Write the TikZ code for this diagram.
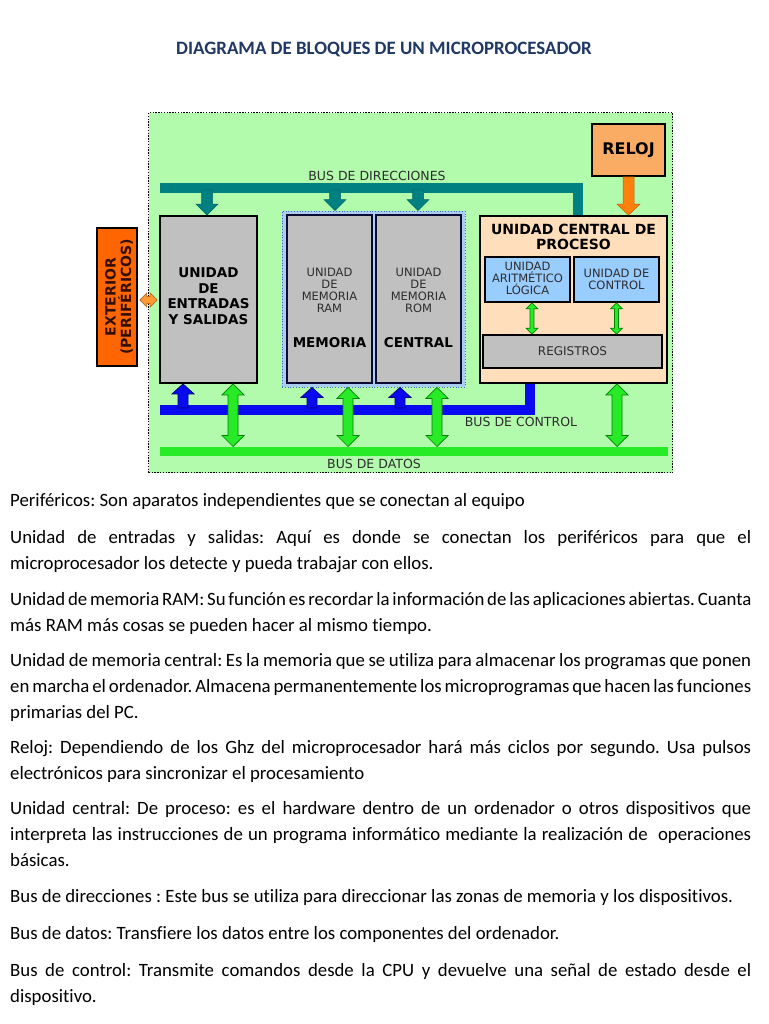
\documentclass[tikz,border=0pt]{standalone}
\usepackage{fontspec}
\setmainfont{Carlito}[Ligatures=NoCommon]
\newfontfamily\dv{DejaVu Sans}
\usetikzlibrary{calc}
\frenchspacing
\definecolor{bggreen}{RGB}{178,250,172}
\definecolor{busteal}{RGB}{0,128,128}
\definecolor{busblue}{RGB}{10,10,240}
\definecolor{navyline}{RGB}{0,0,120}
\definecolor{memline}{RGB}{10,10,50}
\definecolor{busgreen}{RGB}{40,235,40}
\definecolor{dkgreen}{RGB}{0,130,0}
\definecolor{boxgray}{RGB}{192,192,192}
\definecolor{memblue}{RGB}{170,205,240}
\definecolor{memborder}{RGB}{60,110,200}
\definecolor{cpupeach}{RGB}{255,222,188}
\definecolor{ltblue}{RGB}{153,204,255}
\definecolor{relojorange}{RGB}{250,172,100}
\definecolor{extorange}{RGB}{255,102,0}
\definecolor{arroworange}{RGB}{255,128,10}
\definecolor{smallorange}{RGB}{255,153,51}
\definecolor{titleblue}{RGB}{31,56,100}
\definecolor{boxtext}{RGB}{45,45,45}
% single fat arrow: style, tail, tip, shaft half width, head half width, head length
\newcommand{\singlefat}[6]{%
  \path #3 coordinate (sfB) #2 coordinate (sfA) ($(sfB)!#6!(sfA)$) coordinate (sfC);
  \path[#1] ($(sfA)!#4!90:(sfB)$) -- ($(sfC)!#4!90:(sfB)$) -- ($(sfC)!#5!90:(sfB)$) -- (sfB)
    -- ($(sfC)!#5!-90:(sfB)$) -- ($(sfC)!#4!-90:(sfB)$) -- ($(sfA)!#4!-90:(sfB)$) -- cycle;}
% double fat arrow: style, end A, end B, shaft half width, head half width, head length
\newcommand{\doublefat}[6]{%
  \path #2 coordinate (dfA) #3 coordinate (dfB) ($(dfA)!#6!(dfB)$) coordinate (dfC) ($(dfB)!#6!(dfA)$) coordinate (dfD);
  \path[#1] (dfA) -- ($(dfC)!#5!90:(dfB)$) -- ($(dfC)!#4!90:(dfB)$) -- ($(dfD)!#4!90:(dfB)$) -- ($(dfD)!#5!90:(dfB)$) -- (dfB)
    -- ($(dfD)!#5!-90:(dfB)$) -- ($(dfD)!#4!-90:(dfB)$) -- ($(dfC)!#4!-90:(dfB)$) -- ($(dfC)!#5!-90:(dfB)$) -- cycle;}
\newcommand{\jline}[1]{\makebox[741pt][s]{#1}}
\begin{document}
\begin{tikzpicture}[x=1pt,y=-1pt,
  graybox/.style={draw=black, line width=1.8pt, fill=boxgray, inner sep=0pt},
  membox/.style={draw=memline, line width=1.8pt, fill=boxgray, inner sep=0pt},
  bluebox/.style={draw=black, line width=1.6pt, fill=ltblue, inner sep=0pt},
  boldlbl/.style={font=\dv\bfseries\fontsize{13.5}{15.5}\selectfont, align=center, inner sep=0pt},
  smalllbl/.style={font=\dv\fontsize{11.5}{12}\selectfont, align=center, inner sep=0pt, text=boxtext},
  buslbl/.style={font=\dv\fontsize{12.5}{14}\selectfont, inner sep=0pt, text=boxtext},
  bodyline/.style={anchor=base west, inner sep=0pt, font=\fontsize{18.8}{22}\selectfont},
  greenarrow/.style={fill=busgreen, draw=dkgreen, line width=0.7pt},
  bluearrow/.style={fill=busblue, draw=navyline, line width=0.7pt},
  tealarrow/.style={fill=busteal, draw=busteal!80!black, line width=0.5pt},
  orangearrow/.style={fill=arroworange, draw=arroworange!75!black, line width=0.5pt},
  smallorangearrow/.style={fill=smallorange, draw=smallorange!70!black, line width=0.6pt},
  bus/.style={line cap=butt, line join=miter}
]
\useasboundingbox (0,0) rectangle (768,1024);
\fill[white] (0,0) rectangle (768,1024);

% title
\node[anchor=base, inner sep=0pt, font=\bfseries\fontsize{18.9}{22}\selectfont, text=titleblue] (title) at (384,55) {DIAGRAMA DE BLOQUES DE UN MICROPROCESADOR};

% green background
\node[draw=black, line width=1.4pt, dash pattern=on 1.4pt off 1.4pt, fill=bggreen, minimum width=524pt, minimum height=360pt, inner sep=0pt, anchor=north west] (bg) at (148,112) {};

% boxes
\node[graybox, minimum width=97pt, minimum height=167pt] (io) at (208.5,299.5) {};
\node[boldlbl] (iotext) at (208.5,296) {UNIDAD\\DE\\ENTRADAS\\Y SALIDAS};

\node[draw=memborder, line width=0.8pt, dotted, fill=memblue, minimum width=183pt, minimum height=176pt, inner sep=0pt] (mem) at (373.5,299) {};
\node[membox, minimum width=85pt, minimum height=168pt] (ram) at (329.5,299) {};
\node[membox, minimum width=85pt, minimum height=168pt] (rom) at (418.5,299) {};
\node[smalllbl] (ramtext) at (329.5,290) {UNIDAD\\DE\\MEMORIA\\RAM};
\node[smalllbl] (romtext) at (418.5,290) {UNIDAD\\DE\\MEMORIA\\ROM};
\node[boldlbl] (ramlbl) at (329.5,343) {MEMORIA};
\node[boldlbl] (romlbl) at (418.5,343) {CENTRAL};

\node[draw=black, line width=1.8pt, fill=cpupeach, minimum width=187pt, minimum height=167pt, inner sep=0pt] (cpu) at (573.5,299.5) {};
\node[boldlbl, font=\dv\bfseries\fontsize{14}{14.5}\selectfont] (cputext) at (573.5,237) {UNIDAD CENTRAL DE\\PROCESO};
\node[bluebox, minimum width=85pt, minimum height=45pt] (alu) at (527.5,279.5) {};
\node[smalllbl] (alutext) at (527.5,278) {UNIDAD\\ARITMÉTICO\\LÓGICA};
\node[bluebox, minimum width=85pt, minimum height=45pt] (ctrl) at (616.5,279.5) {};
\node[smalllbl] (ctrltext) at (616.5,279) {UNIDAD DE\\CONTROL};
\node[graybox, line width=1.6pt, minimum width=179pt, minimum height=33pt] (reg) at (572.5,351.5) {};
\node[smalllbl, font=\dv\fontsize{12}{12}\selectfont] (regtext) at (572.5,351.5) {REGISTROS};

\node[draw=black, line width=1.8pt, fill=relojorange, minimum width=73pt, minimum height=52pt, inner sep=0pt, font=\dv\bfseries\fontsize{16}{18}\selectfont] (reloj) at (628.5,150) {RELOJ};

\node[draw=black, line width=1.8pt, fill=extorange, minimum width=40pt, minimum height=138pt, inner sep=0pt] (ext) at (117,297) {};
\node[boldlbl, font=\dv\bfseries\fontsize{14}{15.5}\selectfont, text={rgb,255:red,50;green,15;blue,0}, rotate=90] (exttext) at (119,297) {EXTERIOR\\(PERIFÉRICOS)};

% address bus
\coordinate (abL) at (160,188);
\coordinate (abC) at (578,188);
\draw[bus, busteal, line width=10pt] (abL) -- (abC) -- (abC |- cpu.north);
\coordinate (a1) at (207,190);
\coordinate (a2) at (335,190);
\coordinate (a3) at (418,190);
\singlefat{tealarrow}{(a1)}{(a1 |- io.north)}{5.5pt}{11pt}{11pt}
\singlefat{tealarrow}{(a2)}{(a2 |- mem.north)}{5.5pt}{11pt}{11pt}
\singlefat{tealarrow}{(a3)}{(a3 |- mem.north)}{5.5pt}{11pt}{11pt}
\node[buslbl] (ablbl) at (377,176) {BUS DE DIRECCIONES};

% clock arrow
\singlefat{orangearrow}{(reloj.south)}{(reloj.south |- cpu.north)}{5.5pt}{11.5pt}{11pt}

% control bus
\coordinate (cbL) at (160,410);
\coordinate (cbC) at (530,410);
\draw[bus, busblue, line width=10pt] (cbL) -- (cbC) -- (cbC |- cpu.south);
\coordinate (c1) at (183,408);
\coordinate (c2) at (312,408);
\coordinate (c3) at (400,408);
\singlefat{bluearrow}{(c1)}{(c1 |- io.south)}{5pt}{11pt}{10pt}
\singlefat{bluearrow}{(c2)}{(c2 |- mem.south)}{5pt}{11pt}{10pt}
\singlefat{bluearrow}{(c3)}{(c3 |- mem.south)}{5pt}{11pt}{10pt}
\node[buslbl] (cblbl) at (521,422) {BUS DE CONTROL};

% data bus
\coordinate (dbL) at (160,451);
\coordinate (dbR) at (668,451);
\draw[bus, busgreen, line width=9pt] (dbL) -- (dbR);
\coordinate (d1) at (233,446.5);
\coordinate (d2) at (348,446.5);
\coordinate (d3) at (437,446.5);
\coordinate (d4) at (617,446.5);
\doublefat{greenarrow}{(d1)}{(d1 |- io.south)}{5pt}{11pt}{11pt}
\doublefat{greenarrow}{(d2)}{(d2 |- mem.south)}{5pt}{11pt}{11pt}
\doublefat{greenarrow}{(d3)}{(d3 |- mem.south)}{5pt}{11pt}{11pt}
\doublefat{greenarrow}{(d4)}{(d4 |- cpu.south)}{5pt}{11pt}{11pt}
\node[buslbl] (dblbl) at (374,464) {BUS DE DATOS};

% internal CPU arrows
\coordinate (r1) at ($(alu.south)+(4.5,0)$);
\doublefat{greenarrow}{(r1)}{(r1 |- reg.north)}{2pt}{6pt}{6pt}
\doublefat{greenarrow}{(ctrl.south)}{(ctrl.south |- reg.north)}{2pt}{6pt}{6pt}

% exterior link
\coordinate (e1) at ($(ext.east |- 0,300)+(2,0)$);
\coordinate (e2) at ($(io.west |- 0,300)+(-2,0)$);
\doublefat{smallorangearrow}{(e1)}{(e2)}{3.5pt}{7pt}{7pt}

% body text
\node[bodyline] (p1) at (10,506) {Periféricos: Son aparatos independientes que se conectan al equipo};
\node[bodyline] (p2a) at (10,543) {\jline{Unidad de entradas y salidas: Aquí es donde se conectan los periféricos para que el}};
\node[bodyline] (p2b) at (10,569) {microprocesador los detecte y pueda trabajar con ellos.};
\node[bodyline] (p3a) at (10,605) {\jline{Unidad de memoria RAM: Su función es recordar la información de las aplicaciones abiertas. Cuanta}};
\node[bodyline] (p3b) at (10,631) {más RAM más cosas se pueden hacer al mismo tiempo.};
\node[bodyline] (p4a) at (10,666) {\jline{Unidad de memoria central: Es la memoria que se utiliza para almacenar los programas que ponen}};
\node[bodyline] (p4b) at (10,692) {\jline{en marcha el ordenador. Almacena permanentemente los microprogramas que hacen las funciones}};
\node[bodyline] (p4c) at (10,718) {primarias del PC.};
\node[bodyline] (p5a) at (10,753) {\jline{Reloj: Dependiendo de los Ghz del microprocesador hará más ciclos por segundo. Usa pulsos}};
\node[bodyline] (p5b) at (10,779) {electrónicos para sincronizar el procesamiento};
\node[bodyline] (p6a) at (10,814) {\jline{Unidad central: De proceso: es el hardware dentro de un ordenador o otros dispositivos que}};
\node[bodyline] (p6b) at (10,840) {\jline{interpreta las instrucciones de un programa informático mediante la realización de~~operaciones}};
\node[bodyline] (p6c) at (10,866) {básicas.};
\node[bodyline] (p7) at (10,902) {Bus de direcciones : Este bus se utiliza para direccionar las zonas de memoria y los dispositivos.};
\node[bodyline] (p8) at (10,939) {Bus de datos: Transfiere los datos entre los componentes del ordenador.};
\node[bodyline] (p9a) at (10,976) {\jline{Bus de control: Transmite comandos desde la CPU y devuelve una señal de estado desde el}};
\node[bodyline] (p9b) at (10,1002) {dispositivo.};
\end{tikzpicture}
\end{document}
